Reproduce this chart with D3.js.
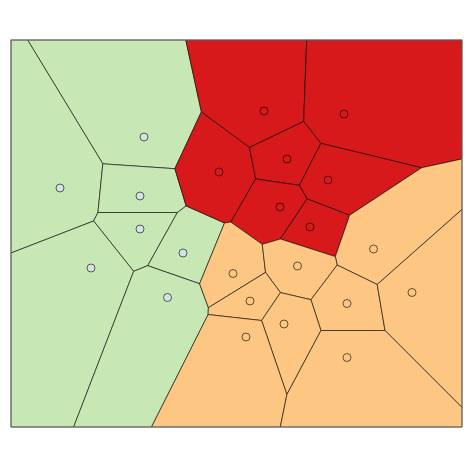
<!DOCTYPE html>
<html>
<head>
<meta charset="utf-8">
<script src="https://cdn.jsdelivr.net/npm/d3@7"></script>
<style>
  html, body { margin: 0; padding: 0; background: #fff; }
  svg { display: block; }
</style>
</head>
<body>
<svg id="chart" width="474" height="468"></svg>
<script>
// Site coordinates in data units (x right, y down), one array per cluster
const clusters = ["green", "red", "orange"];
const greenX = [144, 60, 140, 140, 183, 91, 167.5];
const greenY = [137, 188, 196, 229, 253, 268, 297.5];
const redX = [219, 264, 344, 287, 328, 280, 310];
const redY = [172, 111, 114, 159, 180, 207, 227];
const orangeX = [233, 373.5, 297.5, 250, 347, 412, 284, 246, 347];
const orangeY = [273.5, 249, 266, 301, 303.5, 292.5, 324, 337, 357.5];

// Data domain (the bounding box of the diagram)
const domainX = [11, 462];
const domainY = [40, 427];

const fillColor = { green: "#c7e8b4", red: "#d7191c", orange: "#fdc783" };
const pointFill = { green: "#d4e3e6", red: "#d7191c", orange: "#fdc783" };

const sites = [];
[[greenX, greenY, "green"], [redX, redY, "red"], [orangeX, orangeY, "orange"]]
  .forEach(([xs, ys, c]) => xs.forEach((x, i) => sites.push({ x, y: ys[i], cluster: c })));

const x = d3.scaleLinear().domain(domainX).range([11, 462]);
const y = d3.scaleLinear().domain(domainY).range([40, 427]);

const svg = d3.select("#chart");

const delaunay = d3.Delaunay.from(sites, d => x(d.x), d => y(d.y));
const voronoi = delaunay.voronoi([x(domainX[0]), y(domainY[0]), x(domainX[1]), y(domainY[1])]);

svg.append("g")
  .selectAll("path")
  .data(sites)
  .join("path")
  .attr("d", (d, i) => voronoi.renderCell(i))
  .attr("fill", d => fillColor[d.cluster])
  .attr("stroke", "rgba(0,0,0,0.6)")
  .attr("stroke-width", 1);

svg.append("rect")
  .attr("x", x(domainX[0]))
  .attr("y", y(domainY[0]))
  .attr("width", x(domainX[1]) - x(domainX[0]))
  .attr("height", y(domainY[1]) - y(domainY[0]))
  .attr("fill", "none")
  .attr("stroke", "#777")
  .attr("stroke-width", 1);

svg.append("g")
  .selectAll("circle")
  .data(sites)
  .join("circle")
  .attr("cx", d => x(d.x))
  .attr("cy", d => y(d.y))
  .attr("r", 4)
  .attr("fill", d => pointFill[d.cluster])
  .attr("stroke", "rgba(0,0,0,0.6)")
  .attr("stroke-width", 1);
</script>
</body>
</html>
